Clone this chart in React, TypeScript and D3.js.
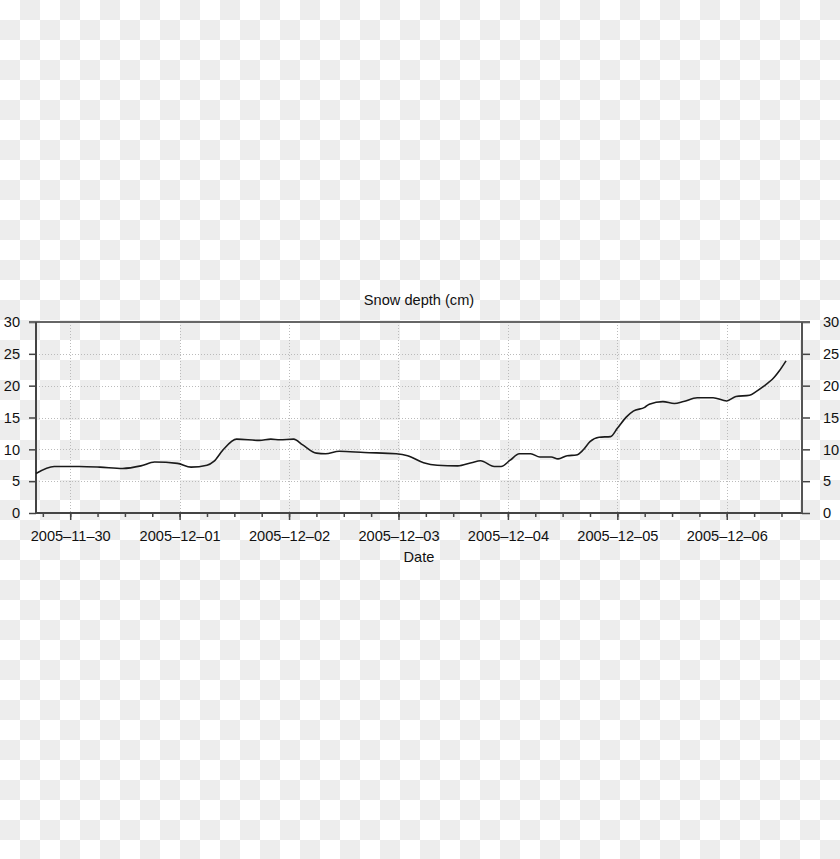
import React, { useEffect, useRef } from "react";
import * as d3 from "d3";

// snow depth readings
const times = [
  "2005-11-29 16:30", "2005-11-29 20:30", "2005-11-30 02:00", "2005-11-30 06:30",
  "2005-11-30 11:30", "2005-11-30 15:30", "2005-11-30 18:30", "2005-11-30 23:30",
  "2005-12-01 02:30", "2005-12-01 06:00", "2005-12-01 07:30", "2005-12-01 09:30",
  "2005-12-01 12:30", "2005-12-01 17:30", "2005-12-01 20:00", "2005-12-01 22:00",
  "2005-12-02 01:00", "2005-12-02 03:00", "2005-12-02 06:00", "2005-12-02 08:00",
  "2005-12-02 11:00", "2005-12-02 16:30", "2005-12-02 23:30", "2005-12-03 02:00",
  "2005-12-03 05:30", "2005-12-03 08:30", "2005-12-03 13:00", "2005-12-03 16:00",
  "2005-12-03 18:00", "2005-12-03 21:00", "2005-12-03 22:30", "2005-12-04 00:30",
  "2005-12-04 02:30", "2005-12-04 05:00", "2005-12-04 07:00", "2005-12-04 09:30",
  "2005-12-04 11:00", "2005-12-04 13:00", "2005-12-04 15:00", "2005-12-04 16:30",
  "2005-12-04 18:00", "2005-12-04 20:00", "2005-12-04 22:30", "2005-12-05 00:00",
  "2005-12-05 02:00", "2005-12-05 03:30", "2005-12-05 06:00", "2005-12-05 07:00",
  "2005-12-05 10:00", "2005-12-05 12:30", "2005-12-05 14:30", "2005-12-05 17:30",
  "2005-12-05 21:00", "2005-12-06 00:00", "2005-12-06 02:00", "2005-12-06 05:00",
  "2005-12-06 06:30", "2005-12-06 09:00", "2005-12-06 10:00", "2005-12-06 11:30",
  "2005-12-06 13:00",
];
const depths = [
  6.2, 7.3, 7.3, 7.2,
  7.0, 7.4, 8.0, 7.8,
  7.2, 7.5, 8.1, 9.9,
  11.6, 11.4, 11.6, 11.5,
  11.6, 10.7, 9.4, 9.3,
  9.7, 9.5, 9.3, 9.0,
  7.9, 7.5, 7.4, 7.9,
  8.2, 7.3, 7.3, 8.3,
  9.3, 9.3, 8.8, 8.8,
  8.5, 9.0, 9.1, 9.9,
  11.2, 11.9, 12.0, 13.3,
  15.1, 16.0, 16.6, 17.1,
  17.5, 17.2, 17.5, 18.1,
  18.1, 17.6, 18.3, 18.5,
  19.1, 20.4, 21.0, 22.3,
  23.9,
];
const domainStart = "2005-11-29 16:30";
const domainEnd = "2005-12-06 16:30";
const yTicks = [0, 5, 10, 15, 20, 25, 30];
const yGrid = [5, 10, 15, 20, 25];

const W = 840;
const H = 859;
const font = "'Liberation Sans', Arial, sans-serif";
const fontSize = "14.6px";

const App = () => {
  const svgRef = useRef<SVGSVGElement | null>(null);

  useEffect(() => {
    document.body.style.margin = "0";
    if (!svgRef.current) return;
    const svg = d3.select(svgRef.current);
    svg.selectAll("*").remove();

    const parse = d3.timeParse("%Y-%m-%d %H:%M");
    const left = 36, right = 802, top = 322, bottom = 513;

    const x = d3
      .scaleTime()
      .domain([parse(domainStart) as Date, parse(domainEnd) as Date])
      .range([left, right]);
    const y = d3.scaleLinear().domain([0, 30]).range([bottom, top]);

    // checkerboard backdrop
    const defs = svg.append("defs");
    const pat = defs
      .append("pattern")
      .attr("id", "checker")
      .attr("width", 40)
      .attr("height", 40)
      .attr("patternUnits", "userSpaceOnUse");
    pat.append("rect").attr("width", 40).attr("height", 40).attr("fill", "#ffffff");
    pat.append("rect").attr("x", 20).attr("y", 0).attr("width", 20).attr("height", 20).attr("fill", "#ededed");
    pat.append("rect").attr("x", 0).attr("y", 20).attr("width", 20).attr("height", 20).attr("fill", "#ededed");
    svg.append("rect").attr("width", W).attr("height", H).attr("fill", "url(#checker)");

    // grid
    const days = x.ticks(d3.timeDay.every(1) as d3.TimeInterval);
    const grid = svg.append("g").attr("stroke", "#bbbbbb").attr("stroke-width", 1).attr("stroke-dasharray", "1,2");
    grid
      .selectAll("line.h")
      .data(yGrid)
      .join("line")
      .attr("x1", left)
      .attr("x2", right)
      .attr("y1", (d) => Math.round(y(d)) + 0.5)
      .attr("y2", (d) => Math.round(y(d)) + 0.5);
    grid
      .selectAll("line.v")
      .data(days)
      .join("line")
      .attr("class", "v")
      .attr("x1", (d) => Math.round(x(d)) + 0.5)
      .attr("x2", (d) => Math.round(x(d)) + 0.5)
      .attr("y1", top)
      .attr("y2", bottom);

    const styleAxis = (g: d3.Selection<SVGGElement, unknown, null, undefined>) => {
      g.select(".domain").remove();
      g.selectAll(".tick line").attr("stroke", "#444").attr("stroke-width", 1.5);
      g.selectAll(".tick text").attr("fill", "#111").style("font-family", font).style("font-size", fontSize);
    };

    // minor ticks every 6 hours
    svg
      .append("g")
      .attr("transform", `translate(0,${bottom})`)
      .call(
        d3
          .axisBottom(x)
          .ticks(d3.timeHour.every(6) as d3.TimeInterval)
          .tickSize(4)
          .tickFormat(() => "")
      )
      .call(styleAxis);

    // major ticks, one per day
    svg
      .append("g")
      .attr("transform", `translate(0,${bottom})`)
      .call(
        d3
          .axisBottom(x)
          .tickValues(days)
          .tickSize(7)
          .tickPadding(11)
          .tickFormat((d) => d3.timeFormat("%Y–%m–%d")(d as Date))
      )
      .call(styleAxis);

    svg
      .append("g")
      .attr("transform", `translate(${left},0)`)
      .call(d3.axisLeft(y).tickValues(yTicks).tickSize(7).tickPadding(9))
      .call(styleAxis);

    svg
      .append("g")
      .attr("transform", `translate(${right},0)`)
      .call(d3.axisRight(y).tickValues(yTicks).tickSize(8).tickPadding(13))
      .call(styleAxis);

    // frame
    svg
      .append("line")
      .attr("x1", left - 7).attr("x2", right + 8)
      .attr("y1", top).attr("y2", top)
      .attr("stroke", "#666").attr("stroke-width", 2);
    svg
      .append("line")
      .attr("x1", left).attr("x2", right)
      .attr("y1", bottom).attr("y2", bottom)
      .attr("stroke", "#444").attr("stroke-width", 2);
    svg
      .append("line")
      .attr("x1", left).attr("x2", left)
      .attr("y1", top).attr("y2", bottom)
      .attr("stroke", "#444").attr("stroke-width", 2);
    svg
      .append("line")
      .attr("x1", right).attr("x2", right)
      .attr("y1", top).attr("y2", bottom)
      .attr("stroke", "#555").attr("stroke-width", 2);

    // series
    const pts = times.map((t, i) => [parse(t) as Date, depths[i]] as [Date, number]);
    const line = d3
      .line<[Date, number]>()
      .x((d) => x(d[0]))
      .y((d) => y(d[1]))
      .curve(d3.curveMonotoneX);
    svg
      .append("path")
      .datum(pts)
      .attr("d", line)
      .attr("fill", "none")
      .attr("stroke", "#1a1a1a")
      .attr("stroke-width", 1.6);

    svg
      .append("text")
      .attr("x", (left + right) / 2)
      .attr("y", 305)
      .attr("text-anchor", "middle")
      .style("font-family", font)
      .style("font-size", fontSize)
      .attr("fill", "#111")
      .text("Snow depth (cm)");

    svg
      .append("text")
      .attr("x", (left + right) / 2)
      .attr("y", 562)
      .attr("text-anchor", "middle")
      .style("font-family", font)
      .style("font-size", fontSize)
      .attr("fill", "#111")
      .text("Date");
  }, []);

  return <svg ref={svgRef} width={W} height={H} style={{ display: "block" }} />;
};

export default App;
